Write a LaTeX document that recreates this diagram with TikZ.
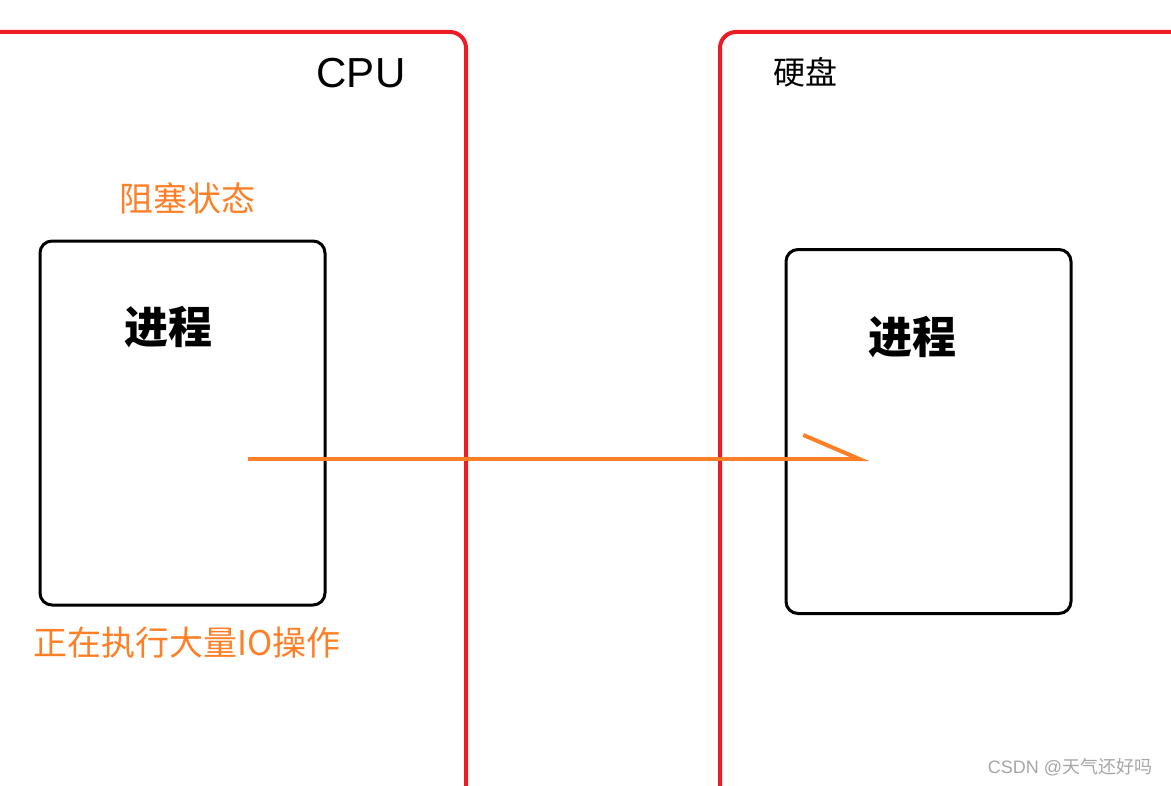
\documentclass[tikz,border=0pt]{standalone}
\usepackage{fontspec}
\setsansfont{Liberation Sans}
\newfontfamily\cjk{Noto Sans CJK SC}
\usetikzlibrary{arrows.meta}
\definecolor{paintred}{HTML}{ED1C24}
\definecolor{paintorange}{HTML}{FF7F27}
\tikzset{
  area/.style={paintred, line width=2pt, rounded corners=8pt},
  proc/.style={draw, line width=1.5pt, rounded corners=6pt, minimum width=142.5pt, minimum height=182pt, inner sep=0pt},
  note/.style={paintorange, font=\cjk\fontsize{17}{17}\selectfont},
  iotext/.style={font=\cjk\bfseries\fontsize{22}{22}\selectfont},
}
\begin{document}
\begin{tikzpicture}[x=0.5pt,y=-0.5pt]
  \useasboundingbox (0,0) rectangle (1171,786);
  % the two areas
  \draw[area] (0,32) -- (466,32) -- (466,790);
  \draw[area] (1175,32) -- (720,32) -- (720,790);
  \node[font=\sffamily\fontsize{21}{21}\selectfont] (cpu) at (361,73) {CPU};
  \node[font=\cjk\fontsize{16}{16}\selectfont] (disk) at (805,72) {硬盘};
  % processes
  \node[proc] (p1) at (182.5,423) {};
  \node[proc] (p2) at (928.5,431.5) {};
  \node[iotext] (p1txt) at (168,327) {进程};
  \node[iotext] (p2txt) at (912,337) {进程};
  \node[note] (blocked) at (187,198) {阻塞状态};
  \node[note] (busy) at (187,643) {正在执行大量IO操作};
  % io
  \coordinate (from) at (248,459);
  \coordinate (to) at (869,459);
  \draw[paintorange, line width=2pt, -{Straight Barb[left, length=28pt, width=24pt]}] (from) -- (to);
  \node[gray!70, font=\sffamily\fontsize{9}{9}\selectfont] (mark) at (1070,767) {CSDN @{\cjk 天气还好吗}};
\end{tikzpicture}
\end{document}
